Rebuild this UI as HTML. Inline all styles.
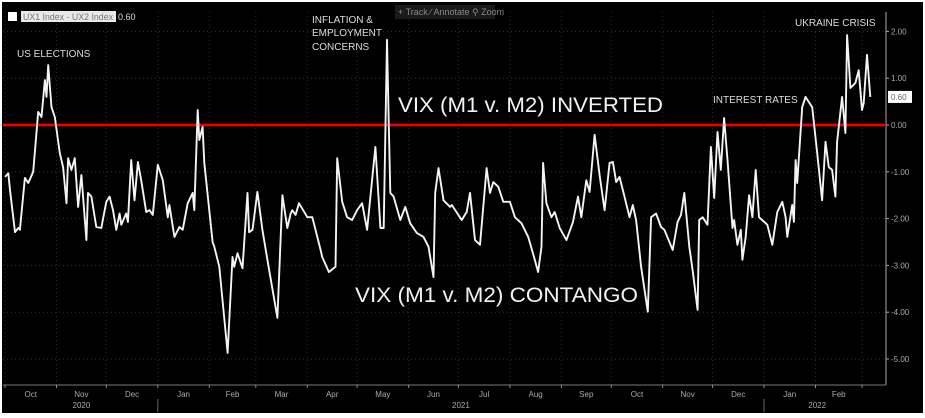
<!DOCTYPE html>
<html><head><meta charset="utf-8">
<style>
html,body{margin:0;padding:0;background:#fff;}
svg{display:block;font-family:"Liberation Sans",sans-serif;}
</style></head>
<body>
<svg id="chart" width="925" height="418" viewBox="0 0 925 418" xmlns="http://www.w3.org/2000/svg">
<rect x="2" y="2" width="921" height="411" fill="#000"/>
<g id="grid"></g>
<g id="yaxis"></g>
<g id="xaxis"></g>
<g id="series"></g>
<g>
  <rect x="8" y="12" width="9" height="9" fill="#fff"/>
  <rect x="21" y="11" width="95" height="11" fill="#e8e8e8"/>
  <text x="23" y="20" font-size="9" fill="#777" textLength="90" lengthAdjust="spacingAndGlyphs">UX1 Index - UX2 Index</text>
  <text x="118" y="20" font-size="9" fill="#ddd">0.60</text>
</g>
<g>
  <rect x="395" y="5" width="100" height="14" fill="#1a1a1a"/>
  <text x="398" y="15" font-size="9" fill="#888">+ Track</text>
  <text x="430" y="15" font-size="9" fill="#888">⁄ Annotate</text>
  <text x="472" y="15" font-size="9" fill="#888">⚲ Zoom</text>
</g>
<g fill="#ddd">
  <text x="17" y="57" font-size="10">US ELECTIONS</text>
  <text x="312" y="23" font-size="10">INFLATION &amp;</text>
  <text x="312" y="36" font-size="10">EMPLOYMENT</text>
  <text x="312" y="50" font-size="10">CONCERNS</text>
  <text x="713" y="103" font-size="10">INTEREST RATES</text>
  <text x="795" y="26" font-size="10">UKRAINE CRISIS</text>
  <text x="398" y="112" font-size="21" fill="#f2f2f2" textLength="265" lengthAdjust="spacingAndGlyphs">VIX (M1 v. M2) INVERTED</text>
  <text x="355" y="302" font-size="21" fill="#f2f2f2" textLength="283" lengthAdjust="spacingAndGlyphs">VIX (M1 v. M2) CONTANGO</text>
</g>
</svg>
<script>
const days=[0,2,3,6,8,9,12,14,17,20,22,24,25,26,28,30,33,35,37,38,40,42,44,46,49,50,52,55,58,61,63,65,67,69,70,73,74,76,78,80,82,85,87,89,92,95,98,99,102,105,107,110,113,114,116,117,119,120,125,126,129,134,137,138,140,143,146,147,149,152,155,158,164,167,170,172,173,175,177,182,185,190,191,195,199,200,203,206,209,212,215,218,223,226,228,230,231,232,234,238,241,244,248,252,255,258,259,261,264,268,269,275,278,280,283,286,290,292,294,297,300,304,307,311,315,319,321,323,324,326,329,331,334,338,342,345,347,350,352,355,358,361,364,366,368,370,373,376,378,380,383,387,389,392,395,397,402,405,407,409,412,414,417,418,420,423,425,427,429,431,433,435,438,439,441,443,444,446,448,450,452,454,459,462,465,468,470,471,474,475,476,477,480,482,484,486,489,492,494,496,498,500,501,504,506,507,509,512,514,516,517,519,521];
const values=[-1.11,-1.03,-1.39,-2.29,-2.2,-2.24,-1.13,-1.24,-1.0,0.28,0.17,0.96,0.6,1.28,0.38,0.17,-0.6,-0.9,-1.67,-0.71,-0.96,-0.71,-1.75,-1.07,-2.46,-1.45,-1.53,-2.18,-2.2,-1.64,-1.53,-1.82,-2.24,-1.89,-2.13,-1.89,-2.07,-0.75,-1.61,-0.79,-1.18,-1.86,-1.82,-1.92,-0.85,-1.18,-1.97,-1.71,-2.39,-2.18,-2.24,-1.67,-1.45,-1.82,0.32,-0.32,-0.04,-0.81,-2.5,-2.6,-3.03,-4.87,-2.82,-3.03,-2.74,-3.06,-1.45,-2.29,-2.24,-1.43,-2.24,-2.88,-4.12,-1.5,-2.2,-1.89,-1.82,-1.92,-1.67,-1.97,-1.97,-2.67,-2.82,-3.14,-3.03,-0.71,-1.64,-1.97,-2.03,-1.82,-1.67,-2.24,-0.47,-2.2,-2.2,1.82,0.1,-1.45,-1.53,-2.03,-1.75,-2.1,-2.31,-2.39,-2.6,-3.25,-1.45,-0.92,-1.61,-1.75,-1.71,-2.03,-1.86,-1.45,-2.46,-2.56,-0.92,-1.45,-1.22,-1.32,-1.64,-1.64,-1.97,-2.1,-2.39,-2.88,-3.14,-2.6,-0.81,-1.67,-1.97,-1.86,-2.2,-2.46,-2.07,-1.53,-1.97,-1.18,-1.43,-0.21,-1.07,-1.82,-0.81,-0.79,-1.22,-1.11,-1.53,-1.97,-1.71,-2.03,-3.03,-3.99,-1.97,-1.89,-2.18,-2.24,-2.67,-2.07,-1.92,-1.45,-2.6,-3.1,-3.95,-2.03,-1.97,-2.13,-0.47,-1.56,-0.15,-0.96,0.15,-0.75,-2.2,-2.03,-2.56,-2.24,-2.88,-2.39,-1.5,-1.97,-0.96,-1.97,-2.13,-2.56,-1.86,-1.64,-1.97,-2.39,-1.71,-2.07,-0.75,-1.24,0.38,0.6,0.49,0.38,-0.6,-1.61,-0.36,-0.9,-0.96,-1.53,-0.36,0.6,-0.17,1.92,0.79,0.9,1.17,0.32,0.47,1.5,0.6];
const yTicks=[2,1,0,-1,-2,-3,-4,-5];
const yTickLabels=["2.00","1.00","0.00","-1.00","-2.00","-3.00","-4.00","-5.00"];
const monthLabels=["Oct","Nov","Dec","Jan","Feb","Mar","Apr","May","Jun","Jul","Aug","Sep","Oct","Nov","Dec","Jan","Feb"];
const monthStarts=[0,31,61,92,123,151,182,212,243,273,304,335,365,396,426,457,488,516];
const years=["2020","2021","2022"];
const yearStarts=[0,92,457,521];
const lastValue=0.60;

const NS="http://www.w3.org/2000/svg";
const X0=5,X1=862,D1=516,AXX=886,PT=12,PB=385;
function xs(d){return X0+(X1-X0)*d/D1;}
function ys(v){return 125-46.8*v;}
function mk(t,a,p){const e=document.createElementNS(NS,t);for(const k in a)e.setAttribute(k,a[k]);p.appendChild(e);return e;}
const grid=document.getElementById('grid'),ya=document.getElementById('yaxis'),xa=document.getElementById('xaxis'),se=document.getElementById('series');

yTicks.forEach((v,i)=>{
  const g=mk('line',{x1:3,x2:AXX,y1:ys(v),y2:ys(v),stroke:'#333','stroke-dasharray':'1,3','stroke-width':1},grid);
  
  
  const t=mk('line',{x1:AXX,x2:AXX+3,y1:ys(v),y2:ys(v),stroke:'#aaa'},ya);
  
  
  const l=mk('text',{x:AXX+5,y:ys(v)+3,'font-size':8,fill:'#aaa'},ya);
  
  
  l.textContent=yTickLabels[i];
});
const axl=mk('line',{x1:AXX,x2:AXX,y1:PT,y2:PB,stroke:'#aaa'},ya);


const bx=mk('line',{x1:3,x2:AXX,y1:PB,y2:PB,stroke:'#777'},xa);



monthStarts.forEach((d,i)=>{
  const gx=mk('line',{x1:xs(d),x2:xs(d),y1:PT,y2:PB,stroke:'#2a2a2a','stroke-dasharray':'1,3'},grid);
  
  
  const tk=mk('line',{x1:xs(d),x2:xs(d),y1:PB,y2:PB+3,stroke:'#888'},xa);
  
  
  if(i<monthLabels.length){
    const m=mk('text',{x:(xs(d)+xs(monthStarts[i+1]))/2,y:PB+12,'font-size':8,fill:'#aaa','text-anchor':'middle'},xa);
    
    
    m.textContent=monthLabels[i];
  }
});
years.forEach((y,i)=>{
  const a=xs(yearStarts[i]),b=xs(yearStarts[i+1]);
  const t=mk('text',{x:(a+b)/2,y:PB+23,'font-size':8,fill:'#aaa','text-anchor':'middle'},xa);
  
  
  t.textContent=y;
  if(i>0){const s=mk('line',{x1:a,x2:a,y1:PB+14,y2:PB+27,stroke:'#666'},xa);
    
    }
});

const zero=mk('line',{x1:3,x2:AXX,y1:ys(0),y2:ys(0),stroke:'#e00','stroke-width':2.8},se);



let d='';
days.forEach((dd,i)=>{d+=(i?'L':'M')+xs(dd).toFixed(1)+','+ys(values[i]).toFixed(1);});
const p=mk('path',{d:d,fill:'none',stroke:'#f4f4f4','stroke-width':1.9,'stroke-linejoin':'round'},se);



const lb=mk('rect',{x:AXX+2,y:ys(lastValue)-6,width:24,height:12,fill:'#fff'},ya);


const lt=mk('text',{x:AXX+5,y:ys(lastValue)+3,'font-size':8,fill:'#666'},ya);


lt.textContent=lastValue.toFixed(2);
</script>
</body></html>
